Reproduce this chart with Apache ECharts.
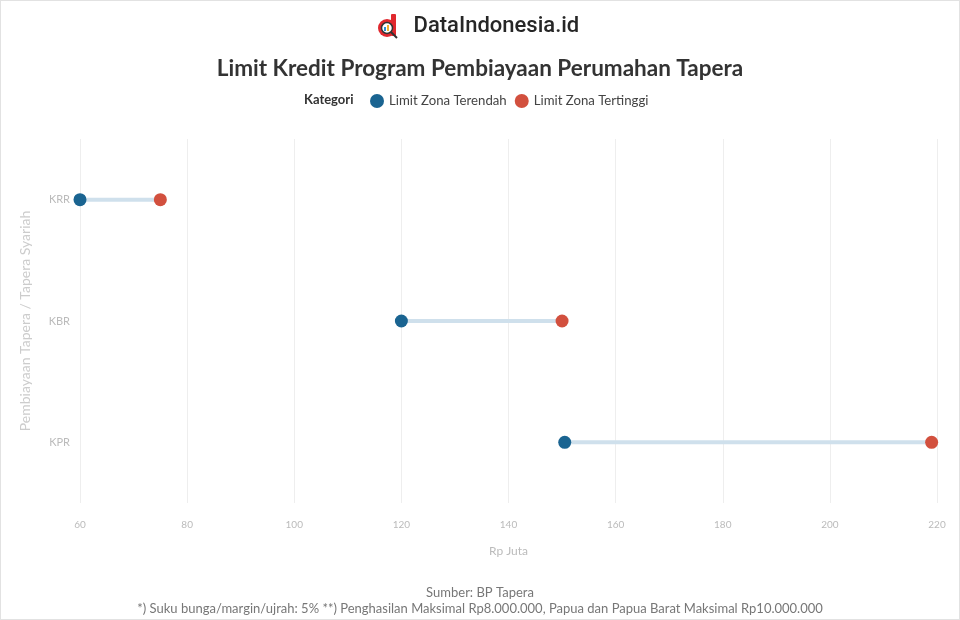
<!DOCTYPE html>
<html><head><meta charset="utf-8">
<script src="https://cdn.jsdelivr.net/npm/echarts@6/dist/echarts.min.js"></script>
<style>html,body{margin:0;padding:0;background:#fff}#c{width:958px;height:618px;border:1px solid #e2e2e2}</style>
</head><body><div id="c"></div>
<script>
const categories = ['KRR', 'KBR', 'KPR'];
const lowValues = [60, 120, 150.5];
const highValues = [75, 150, 219];
const xTicks = [60, 80, 100, 120, 140, 160, 180, 200, 220];
const seriesNames = ['Limit Zona Terendah', 'Limit Zona Tertinggi'];

const FONT = 'Lato, "Noto Sans", sans-serif';
const chart = echarts.init(document.getElementById('c'));
chart.setOption({
  animation: false,
  textStyle: {fontFamily: FONT},
  title: {
    text: 'Limit Kredit Program Pembiayaan Perumahan Tapera',
    left: 'center', top: 51,
    textStyle: {fontSize: 22.5, fontWeight: 'bold', color: '#333', fontFamily: FONT}
  },
  legend: {
    data: seriesNames, left: 364, top: 88, itemWidth: 14, itemHeight: 14, itemGap: 8,
    icon: 'circle',
    textStyle: {fontSize: 13.2, color: '#444', fontFamily: FONT}
  },
  graphic: [
    {type: 'text', left: 303, top: 92, style: {text: 'Kategori', font: 'bold 13px ' + FONT, fill: '#333'}},
    {type: 'text', left: 'center', top: 14, style: {text: '      DataIndonesia.id', font: '500 22px Roboto, sans-serif', fill: '#262626'}},
    {type: 'group', left: 377, top: 13, children: [
      {type: 'rect', shape: {x: 14, y: 0, width: 5, height: 22, r: 1}, style: {fill: '#e0282e'}},
      {type: 'circle', shape: {cx: 10, cy: 14, r: 9}, style: {fill: '#e0282e'}},
      {type: 'circle', shape: {cx: 10, cy: 14, r: 5.5}, style: {fill: '#fff', stroke: '#333', lineWidth: 1.5}},
      {type: 'line', shape: {x1: 14, y1: 18, x2: 20, y2: 24}, style: {stroke: '#333', lineWidth: 2}},
      {type: 'rect', shape: {x: 7, y: 13, width: 2, height: 4}, style: {fill: '#2a8fd6'}},
      {type: 'rect', shape: {x: 10, y: 11, width: 2, height: 6}, style: {fill: '#f2b233'}}
    ]},
    {type: 'text', left: 'center', top: 585, style: {text: 'Sumber: BP Tapera', font: '13px ' + FONT, fill: '#777'}},
    {type: 'text', left: 'center', top: 601, style: {text: '*) Suku bunga/margin/ujrah: 5% **) Penghasilan Maksimal Rp8.000.000, Papua dan Papua Barat Maksimal Rp10.000.000', font: '13px ' + FONT, fill: '#777'}}
  ],
  grid: {left: 79, right: 22, top: 138, bottom: 116, containLabel: false},
  xAxis: {
    type: 'value', min: 60, max: 220, interval: 20,
    name: 'Rp Juta', nameLocation: 'middle', nameGap: 42,
    nameTextStyle: {color: '#bbb', fontSize: 12},
    axisLine: {show: false}, axisTick: {show: false},
    axisLabel: {color: '#bbb', fontSize: 10, margin: 17, formatter: v => xTicks.includes(v) ? String(v) : ''},
    splitLine: {show: true, lineStyle: {color: '#eeeeee', width: 1}}
  },
  yAxis: {
    type: 'category', data: categories, inverse: true,
    name: 'Pembiayaan Tapera / Tapera Syariah', nameLocation: 'middle', nameGap: 48, nameRotate: 90,
    nameTextStyle: {color: '#ccc', fontSize: 14},
    axisLine: {show: false}, axisTick: {show: false},
    axisLabel: {color: '#bbb', fontSize: 11, margin: 10},
    splitLine: {show: false}
  },
  series: [
    {
      type: 'custom', silent: true, z: 1,
      data: categories.map((c, i) => [i, lowValues[i], highValues[i]]),
      encode: {x: [1, 2], y: 0},
      renderItem: function (params, api) {
        const a = api.coord([api.value(1), api.value(0)]);
        const b = api.coord([api.value(2), api.value(0)]);
        return {type: 'line', shape: {x1: a[0], y1: a[1], x2: b[0], y2: b[1]}, style: {stroke: '#cfe0ec', lineWidth: 4}};
      }
    },
    {name: seriesNames[0], type: 'scatter', symbolSize: 13, z: 3, itemStyle: {color: '#1a6491', opacity: 1},
      data: categories.map((c, i) => [lowValues[i], c])},
    {name: seriesNames[1], type: 'scatter', symbolSize: 13, z: 3, itemStyle: {color: '#d2503e', opacity: 1},
      data: categories.map((c, i) => [highValues[i], c])}
  ]
});
</script></body></html>
